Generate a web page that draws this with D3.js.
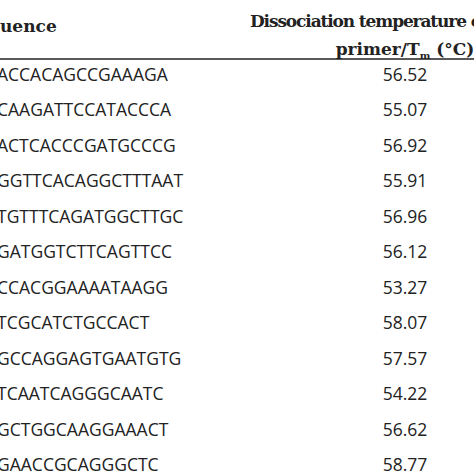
<!DOCTYPE html>
<html><head><meta charset="utf-8">
<script src="https://cdn.jsdelivr.net/npm/d3@7"></script>
<style>body{margin:0;background:#fff}</style>
</head><body>
<svg id="t" width="474" height="474"></svg>
<script>
const sequences = ["ACCACAGCCGAAAGA","CAAGATTCCATACCCA","ACTCACCCGATGCCCG","GGTTCACAGGCTTTAAT",
  "TGTTTCAGATGGCTTGC","GATGGTCTTCAGTTCC","CCACGGAAAATAAGG","TCGCATCTGCCACT",
  "GCCAGGAGTGAATGTG","TCAATCAGGGCAATC","GCTGGCAAGGAAACT","GAACCGCAGGGCTC"];
const tmValues = ["56.52","55.07","56.92","55.91","56.96","56.12","53.27","58.07","57.57","54.22","56.62","58.77"];

const svg = d3.select("#t");
const font = "'Open Sans', sans-serif";
const head = "'DejaVu Serif', serif";
const y = d3.scalePoint().domain(d3.range(sequences.length)).range([75, 465]);

svg.append("text").attr("x", 0).attr("y", 32).attr("font-family", head)
  .attr("font-weight", 700).attr("font-size", 17).attr("fill", "#222").text("uence");
svg.append("text").attr("x", 250).attr("y", 27).attr("font-family", head)
  .attr("font-weight", 700).attr("font-size", 17).attr("fill", "#222")
  .attr("textLength", 232).text("Dissociation temperature o");
const h2 = svg.append("text").attr("x", 405).attr("y", 55).attr("text-anchor", "middle")
  .attr("font-family", head).attr("font-weight", 700).attr("font-size", 17).attr("fill", "#222");
h2.append("tspan").text("primer/T");
h2.append("tspan").attr("font-size", 10).attr("dy", 4).text("m");
h2.append("tspan").attr("dy", -4).text(" (°C)");

svg.append("line").attr("x1", 0).attr("x2", 474).attr("y1", 59).attr("y2", 59)
  .attr("stroke", "#222").attr("stroke-width", 1.5);

const rows = svg.selectAll("g.row").data(sequences).join("g").attr("class", "row")
  .attr("transform", (d, i) => `translate(0,${y(i)})`);
rows.append("text").attr("x", -3).attr("y", 6).attr("font-family", font)
  .attr("font-size", 17.5).attr("fill", "#222").text(d => d);
rows.append("text").attr("x", 405).attr("y", 6).attr("text-anchor", "middle")
  .attr("font-family", font).attr("font-size", 17.5).attr("fill", "#222")
  .text((d, i) => tmValues[i]);
</script>
</body></html>
